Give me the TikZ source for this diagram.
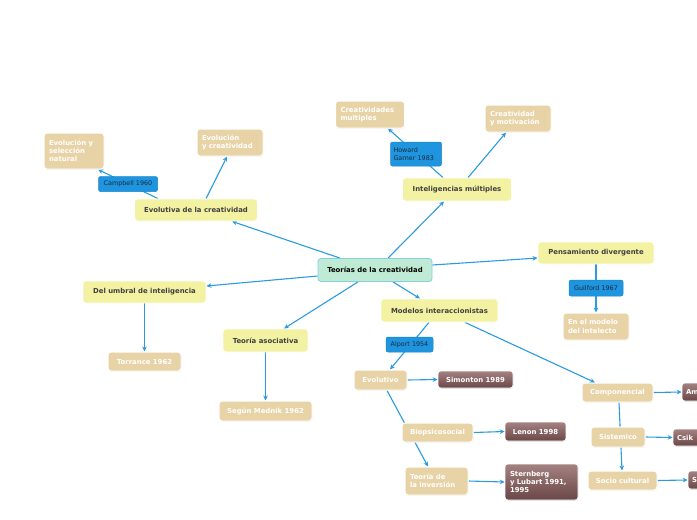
\documentclass[tikz,border=0pt]{standalone}
\usepackage{fontspec}
\setmainfont{DejaVu Sans}
\usetikzlibrary{arrows.meta,shadows}
\pgfdeclarelayer{background}
\pgfsetlayers{background,main}
\definecolor{rootfill}{HTML}{BFEBD4}
\definecolor{rootline}{HTML}{86CFE2}
\definecolor{mainfill}{HTML}{F3F1A2}
\definecolor{tanfill}{HTML}{E8D3A6}
\definecolor{labfill}{HTML}{1F95DF}
\definecolor{labline}{HTML}{1B86CC}
\definecolor{labtext}{HTML}{1A2B3C}
\definecolor{arrowblue}{HTML}{2A9BE0}
\definecolor{greytext}{HTML}{404040}
\definecolor{browntop}{HTML}{A58282}
\definecolor{brownbot}{HTML}{6A4646}
\tikzset{
  base/.style={rounded corners=3pt, inner sep=0pt, align=center,
    font=\fontsize{6.9}{8.2}\selectfont\bfseries},
  rootbox/.style={base, fill=rootfill, draw=rootline, line width=0.8pt, text=black},
  mainbox/.style={base, fill=mainfill, draw=white, line width=0.8pt, text=greytext},
  tanbox/.style={base, fill=tanfill, draw=white, line width=1pt, text=white, align=left,
    drop shadow={opacity=0.18, shadow xshift=0.4pt, shadow yshift=-0.8pt}},
  labbox/.style={rounded corners=2pt, inner sep=0pt, fill=labfill, draw=labline, line width=0.5pt,
    text=labtext, align=left, font=\fontsize{6.4}{7.6}\selectfont},
  refbox/.style={base, top color=browntop, bottom color=brownbot, draw=white, line width=0.6pt,
    text=white, align=left,
    drop shadow={opacity=0.18, shadow xshift=0.4pt, shadow yshift=-0.8pt}},
  conn/.style={draw=arrowblue, line width=1.1pt, -{Stealth[length=5pt,width=4.6pt]}},
}
\begin{document}
\begin{tikzpicture}[x=1pt,y=-1pt]
\useasboundingbox (0,0) rectangle (697,520);
\clip (0,0) rectangle (697,520);
% nodes
\node[rootbox, minimum width=114pt, minimum height=23pt] (root) at (375,270) {Teorías de la creatividad};
\node[mainbox, minimum width=123pt, minimum height=22pt] (evol) at (196,210) {Evolutiva de la creatividad};
\node[tanbox, minimum width=60pt, minimum height=36pt, text width=50pt] (esn) at (74,151) {Evolución y\\selección\\natural};
\node[tanbox, minimum width=66pt, minimum height=27pt, text width=56pt] (eyc) at (230,142.5) {Evolución\\y creatividad};
\node[mainbox, minimum width=109pt, minimum height=23pt] (intm) at (457,189.5) {Inteligencias múltiples};
\node[tanbox, minimum width=69pt, minimum height=27pt, text width=59pt] (cm) at (370,114.5) {Creatividades\\multiples};
\node[tanbox, minimum width=66pt, minimum height=27pt, text width=56pt] (cym) at (518,118.5) {Creatividad\\y motivación};
\node[mainbox, minimum width=116pt, minimum height=22pt] (pens) at (596,253) {Pensamiento divergente};
\node[tanbox, minimum width=66pt, minimum height=27pt, text width=56pt] (model) at (596,326.5) {En el modelo\\del intelecto};
\node[mainbox, minimum width=123pt, minimum height=22pt] (umb) at (144.5,292) {Del umbral de inteligencia};
\node[tanbox, minimum width=73pt, minimum height=19pt, align=center] (torr) at (144.5,361.5) {Torrance 1962};
\node[mainbox, minimum width=85pt, minimum height=23pt] (asoc) at (265.5,340.5) {Teoría asociativa};
\node[tanbox, minimum width=93pt, minimum height=20pt, align=center] (med) at (265.5,411) {Según Mednik 1962};
\node[mainbox, minimum width=117pt, minimum height=23pt] (modi) at (439.5,310.5) {Modelos interaccionistas};
\node[tanbox, minimum width=53pt, minimum height=20pt, align=center] (evo) at (380.5,380) {Evolutivo};
\node[refbox, minimum width=75pt, minimum height=17pt, align=center] (sim) at (475.5,379.5) {Simonton 1989};
\node[tanbox, minimum width=71pt, minimum height=19pt, align=center] (bio) at (437.5,432.5) {Biopsicosocial};
\node[refbox, minimum width=61pt, minimum height=19pt, align=center] (len) at (535.5,431.5) {Lenon 1998};
\node[tanbox, minimum width=63pt, minimum height=28pt, text width=53pt] (inv) at (436.5,481) {Teoría de\\la inversión};
\node[refbox, minimum width=73pt, minimum height=36pt, text width=63pt] (stern) at (541.5,482) {Sternberg\\y Lubart 1991,\\1995};
\node[tanbox, minimum width=71pt, minimum height=19pt, align=center] (comp) at (617.5,392.5) {Componencial};
\node[refbox, minimum width=60pt, minimum height=18pt, text width=52pt] (am) at (712,392) {Am};
\node[tanbox, minimum width=54pt, minimum height=20pt, align=center] (sist) at (618,437) {Sistemico};
\node[refbox, minimum width=60pt, minimum height=17pt, text width=52pt] (csik) at (703,437.5) {Csik};
\node[tanbox, minimum width=69pt, minimum height=19pt, align=center] (soc) at (622.5,480.5) {Socio cultural};
\node[refbox, minimum width=60pt, minimum height=18pt, text width=52pt] (sref) at (718,480) {S};
% labels on connectors
\node[labbox, minimum width=59pt, minimum height=15pt, align=center] (camp) at (128,184) {Campbell 1960};
\node[labbox, minimum width=51pt, minimum height=24pt, text width=45pt] (how) at (416,154) {Howard\\Garner 1983};
\node[labbox, minimum width=54pt, minimum height=16pt, align=center] (guil) at (596,288) {Guilford 1967};
\node[labbox, minimum width=47pt, minimum height=15pt, align=center] (alp) at (409.5,344.5) {Alport 1954};
% connectors
\begin{pgfonlayer}{background}
\draw[conn] ([xshift=-35pt]root.north) -- ([xshift=36pt]evol.south);
\draw[conn] ([xshift=-38pt]evol.north) -- ([xshift=24pt]esn.south);
\draw[conn] ([xshift=10pt]evol.north) -- ([xshift=-3pt]eyc.south);
\draw[conn] ([xshift=13pt]root.north) -- ([xshift=-13pt]intm.south);
\draw[conn] ([xshift=-14pt]intm.north) -- ([xshift=18pt]cm.south);
\draw[conn] ([xshift=11pt]intm.north) -- ([xshift=-12pt]cym.south);
\draw[conn] ([yshift=5pt]root.east) -- ([yshift=-5pt]pens.west);
\draw[conn] (pens.south) -- (model.north);
\draw[conn] ([yshift=-6pt]root.west) -- ([yshift=6pt]umb.east);
\draw[conn] (umb.south) -- (torr.north);
\draw[conn] ([xshift=-17pt]root.south) -- ([xshift=18.5pt]asoc.north);
\draw[conn] (asoc.south) -- (med.north);
\draw[conn] ([xshift=18pt]root.south) -- ([xshift=-19.5pt]modi.north);
\draw[conn] ([xshift=-10.5pt]modi.south) -- ([xshift=9.5pt]evo.north);
\draw[conn] ([xshift=25.5pt]modi.south) -- ([xshift=-22.5pt]comp.north);
\draw[conn] (evo.east) -- (sim.west);
\draw[conn] ([xshift=6.5pt]evo.south) -- ([xshift=-8.5pt]inv.north);
\draw[conn] (bio.east) -- (len.west);
\draw[conn] (inv.east) -- (stern.west);
\draw[conn] ([xshift=1.5pt]comp.south) -- ([xshift=-0.5pt]soc.north);
\draw[conn] (comp.east) -- (am.west);
\draw[conn] (sist.east) -- (csik.west);
\draw[conn] (soc.east) -- (sref.west);
\end{pgfonlayer}
\end{tikzpicture}
\end{document}
